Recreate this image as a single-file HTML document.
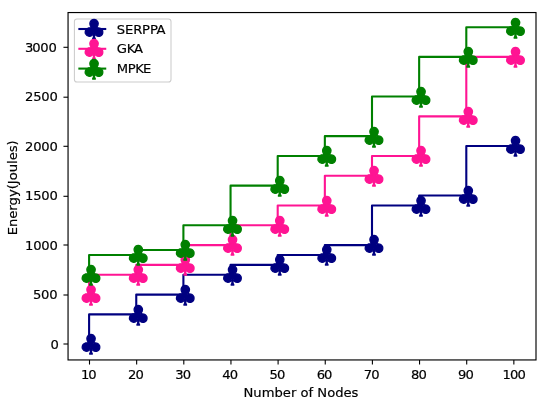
<!DOCTYPE html>
<html lang="en"><head><meta charset="utf-8"><title>Energy vs Number of Nodes</title>
<style>html,body{margin:0;padding:0;background:#fff;}body{width:550px;height:406px;overflow:hidden;}svg{display:block;}text{font-family:"DejaVu Sans","Liberation Sans",sans-serif;}</style></head><body>
<svg width="550" height="406" viewBox="0 0 550 406">
<rect x="0" y="0" width="550" height="406" fill="#ffffff"/>
<path d="M89.10 344.11 L89.10 314.40 L136.25 314.40 L136.25 294.60 L183.40 294.60 L183.40 274.79 L230.55 274.79 L230.55 264.89 L277.70 264.89 L277.70 254.98 L324.85 254.98 L324.85 245.08 L372.00 245.08 L372.00 205.47 L419.15 205.47 L419.15 195.56 L466.30 195.56 L466.30 146.05 L513.45 146.05" fill="none" stroke="#000080" stroke-width="2.10" stroke-linejoin="round" stroke-linecap="square"/>
<g fill="#000080" stroke="#000080" stroke-width="1.31" stroke-linejoin="round" font-size="26.90" text-anchor="middle">
<text transform="translate(91.05 354.46) scale(0.975 1)">&#9827;</text>
<text transform="translate(138.20 324.75) scale(0.975 1)">&#9827;</text>
<text transform="translate(185.35 304.94) scale(0.975 1)">&#9827;</text>
<text transform="translate(232.50 285.14) scale(0.975 1)">&#9827;</text>
<text transform="translate(279.65 275.24) scale(0.975 1)">&#9827;</text>
<text transform="translate(326.80 265.33) scale(0.975 1)">&#9827;</text>
<text transform="translate(373.95 255.43) scale(0.975 1)">&#9827;</text>
<text transform="translate(421.10 215.82) scale(0.975 1)">&#9827;</text>
<text transform="translate(468.25 205.91) scale(0.975 1)">&#9827;</text>
<text transform="translate(515.40 156.40) scale(0.975 1)">&#9827;</text>
</g>
<path d="M89.10 294.60 L89.10 274.79 L136.25 274.79 L136.25 264.89 L183.40 264.89 L183.40 245.08 L230.55 245.08 L230.55 225.27 L277.70 225.27 L277.70 205.47 L324.85 205.47 L324.85 175.76 L372.00 175.76 L372.00 155.95 L419.15 155.95 L419.15 116.34 L466.30 116.34 L466.30 56.92 L513.45 56.92" fill="none" stroke="#ff1493" stroke-width="2.10" stroke-linejoin="round" stroke-linecap="square"/>
<g fill="#ff1493" stroke="#ff1493" stroke-width="1.31" stroke-linejoin="round" font-size="26.90" text-anchor="middle">
<text transform="translate(91.05 304.94) scale(0.975 1)">&#9827;</text>
<text transform="translate(138.20 285.14) scale(0.975 1)">&#9827;</text>
<text transform="translate(185.35 275.24) scale(0.975 1)">&#9827;</text>
<text transform="translate(232.50 255.43) scale(0.975 1)">&#9827;</text>
<text transform="translate(279.65 235.62) scale(0.975 1)">&#9827;</text>
<text transform="translate(326.80 215.82) scale(0.975 1)">&#9827;</text>
<text transform="translate(373.95 186.11) scale(0.975 1)">&#9827;</text>
<text transform="translate(421.10 166.30) scale(0.975 1)">&#9827;</text>
<text transform="translate(468.25 126.69) scale(0.975 1)">&#9827;</text>
<text transform="translate(515.40 67.27) scale(0.975 1)">&#9827;</text>
</g>
<path d="M89.10 274.79 L89.10 254.98 L136.25 254.98 L136.25 250.03 L183.40 250.03 L183.40 225.27 L230.55 225.27 L230.55 185.66 L277.70 185.66 L277.70 155.95 L324.85 155.95 L324.85 136.15 L372.00 136.15 L372.00 96.53 L419.15 96.53 L419.15 56.92 L466.30 56.92 L466.30 27.21 L513.45 27.21" fill="none" stroke="#008000" stroke-width="2.10" stroke-linejoin="round" stroke-linecap="square"/>
<g fill="#008000" stroke="#008000" stroke-width="1.31" stroke-linejoin="round" font-size="26.90" text-anchor="middle">
<text transform="translate(91.05 285.14) scale(0.975 1)">&#9827;</text>
<text transform="translate(138.20 265.33) scale(0.975 1)">&#9827;</text>
<text transform="translate(185.35 260.38) scale(0.975 1)">&#9827;</text>
<text transform="translate(232.50 235.62) scale(0.975 1)">&#9827;</text>
<text transform="translate(279.65 196.01) scale(0.975 1)">&#9827;</text>
<text transform="translate(326.80 166.30) scale(0.975 1)">&#9827;</text>
<text transform="translate(373.95 146.50) scale(0.975 1)">&#9827;</text>
<text transform="translate(421.10 106.88) scale(0.975 1)">&#9827;</text>
<text transform="translate(468.25 67.27) scale(0.975 1)">&#9827;</text>
<text transform="translate(515.40 37.56) scale(0.975 1)">&#9827;</text>
</g>
<rect x="68.05" y="12.55" width="467.95" height="347.40" fill="none" stroke="#000" stroke-width="1.15"/>
<g stroke="#000" stroke-width="1.10">
<line x1="89.50" y1="359.95" x2="89.50" y2="364.55"/>
<line x1="136.65" y1="359.95" x2="136.65" y2="364.55"/>
<line x1="183.80" y1="359.95" x2="183.80" y2="364.55"/>
<line x1="230.95" y1="359.95" x2="230.95" y2="364.55"/>
<line x1="278.10" y1="359.95" x2="278.10" y2="364.55"/>
<line x1="325.25" y1="359.95" x2="325.25" y2="364.55"/>
<line x1="372.40" y1="359.95" x2="372.40" y2="364.55"/>
<line x1="419.55" y1="359.95" x2="419.55" y2="364.55"/>
<line x1="466.70" y1="359.95" x2="466.70" y2="364.55"/>
<line x1="513.85" y1="359.95" x2="513.85" y2="364.55"/>
<line x1="63.45" y1="344.00" x2="68.05" y2="344.00"/>
<line x1="63.45" y1="295.00" x2="68.05" y2="295.00"/>
<line x1="63.45" y1="245.00" x2="68.05" y2="245.00"/>
<line x1="63.45" y1="196.30" x2="68.05" y2="196.30"/>
<line x1="63.45" y1="146.30" x2="68.05" y2="146.30"/>
<line x1="63.45" y1="97.20" x2="68.05" y2="97.20"/>
<line x1="63.45" y1="47.30" x2="68.05" y2="47.30"/>
</g>
<g font-size="13.15" fill="#000" stroke="#000" stroke-width="0.18">
<g text-anchor="middle" letter-spacing="-0.9">
<text x="88.35" y="378.80">10</text>
<text x="135.50" y="378.80">20</text>
<text x="182.65" y="378.80">30</text>
<text x="229.80" y="378.80">40</text>
<text x="276.95" y="378.80">50</text>
<text x="324.10" y="378.80">60</text>
<text x="371.25" y="378.80">70</text>
<text x="418.40" y="378.80">80</text>
<text x="465.55" y="378.80">90</text>
<text x="513.75" y="378.80">100</text>
</g><g text-anchor="end" letter-spacing="-0.2">
<text x="58.70" y="348.85">0</text>
<text x="57.40" y="299.05">500</text>
<text x="57.70" y="250.05">1000</text>
<text x="57.70" y="200.25">1500</text>
<text x="57.70" y="151.05">2000</text>
<text x="57.70" y="101.35">2500</text>
<text x="56.70" y="52.45">3<tspan dx="-1">000</tspan></text>
</g>
<text x="301.00" y="397.40" text-anchor="middle">Number of Nodes</text>
<text transform="translate(16.90 187.80) rotate(-90)" text-anchor="middle">Energy(Joules)</text>
</g>
<rect x="74.40" y="19.00" width="96.60" height="63.00" rx="2.6" ry="2.6" fill="#ffffff" fill-opacity="0.8" stroke="#cccccc" stroke-width="1.05"/>
<line x1="79.4" y1="29.00" x2="105.2" y2="29.00" stroke="#000080" stroke-width="2.10" stroke-linecap="square"/>
<text transform="translate(94.10 39.25) scale(0.975 1)" fill="#000080" stroke="#000080" stroke-width="1.31" stroke-linejoin="round" font-size="26.90" text-anchor="middle">&#9827;</text>
<text x="116.7" y="33.60" font-size="13.15" fill="#000" stroke="#000" stroke-width="0.18">SER<tspan dx="-0.5">P</tspan>P<tspan dx="-0.6">A</tspan></text>
<line x1="79.4" y1="48.80" x2="105.2" y2="48.80" stroke="#ff1493" stroke-width="2.10" stroke-linecap="square"/>
<text transform="translate(94.10 59.05) scale(0.975 1)" fill="#ff1493" stroke="#ff1493" stroke-width="1.31" stroke-linejoin="round" font-size="26.90" text-anchor="middle">&#9827;</text>
<text x="116.7" y="53.40" font-size="13.15" fill="#000" stroke="#000" stroke-width="0.18">GK<tspan dx="-1.3">A</tspan></text>
<line x1="79.4" y1="68.60" x2="105.2" y2="68.60" stroke="#008000" stroke-width="2.10" stroke-linecap="square"/>
<text transform="translate(94.10 78.85) scale(0.975 1)" fill="#008000" stroke="#008000" stroke-width="1.31" stroke-linejoin="round" font-size="26.90" text-anchor="middle">&#9827;</text>
<text x="116.7" y="73.30" font-size="13.15" fill="#000" stroke="#000" stroke-width="0.18">M<tspan dx="-0.3">P</tspan><tspan dx="-0.5">K</tspan><tspan dx="-0.8">E</tspan></text>
</svg></body></html>
